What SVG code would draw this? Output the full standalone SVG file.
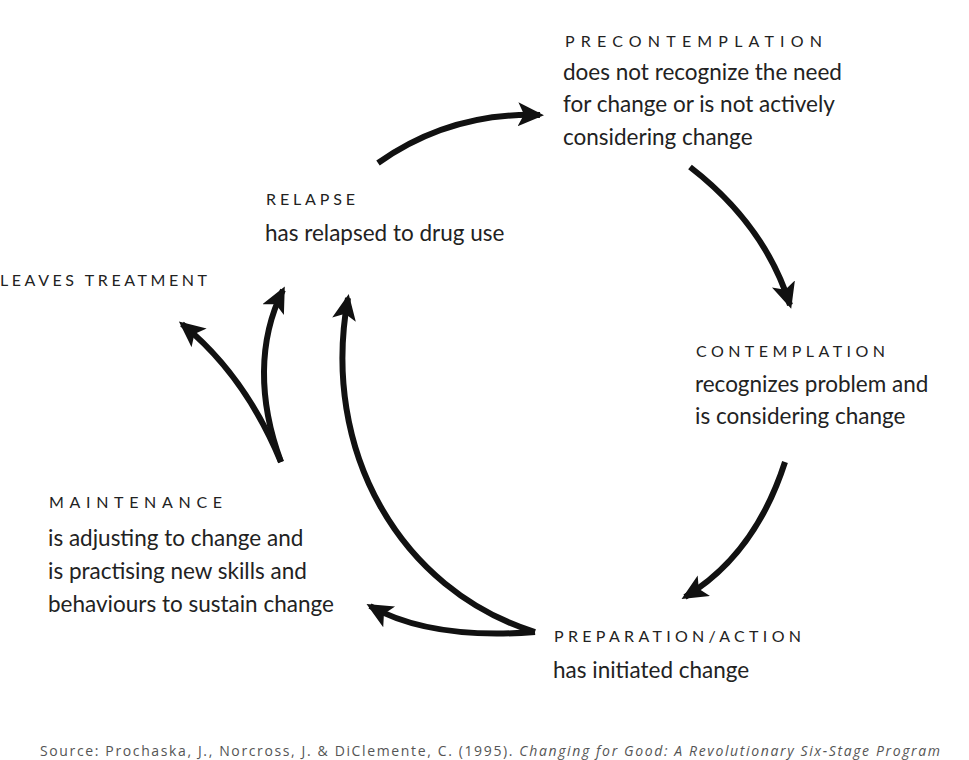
<svg xmlns="http://www.w3.org/2000/svg" width="969" height="760" viewBox="0 0 969 760">
<style>
.t{font-family:Lato,"Open Sans",sans-serif;font-size:16px;letter-spacing:3px;fill:#222}
.b{font-family:Lato,"Open Sans",sans-serif;font-size:22.5px;fill:#222}
.s{font-family:"Open Sans",sans-serif;font-size:14px;fill:#555}
.a{fill:none;stroke:#111;stroke-width:6;stroke-linecap:butt;marker-end:url(#h)}
</style>
<defs>
<marker id="h" markerUnits="userSpaceOnUse" markerWidth="30" markerHeight="30" refX="22" refY="12" orient="auto">
<path d="M0,0 L26,12 L0,24 L6,12 Z" fill="#111"/>
</marker>
</defs>
<rect width="969" height="760" fill="#fff"/>
<g id="connectors">
<path class="a" d="M378,163 Q450,112 540,115"/>
<path class="a" d="M690,167 Q765,225 790,305"/>
<path class="a" d="M785,462 Q755,555 685,597"/>
<path class="a" d="M535,632 Q430,640 370,606"/>
<path class="a" d="M535,632 C400,590 320,450 348,298"/>
<path class="a" d="M281,462 C258,400 258,340 283,290"/>
<path class="a" d="M281,462 Q245,375 182,324"/>
</g>
<g id="precontemplation">
<text class="t" x="565" y="47" textLength="260">PRECONTEMPLATION</text>
<text class="b" x="563" y="80">does not recognize the need</text>
<text class="b" x="563" y="112">for change or is not actively</text>
<text class="b" x="563" y="145">considering change</text>
</g>
<g id="contemplation">
<text class="t" x="696" y="357" textLength="192">CONTEMPLATION</text>
<text class="b" x="695" y="392">recognizes problem and</text>
<text class="b" x="695" y="424">is considering change</text>
</g>
<g id="preparation">
<text class="t" x="554" y="642" textLength="250">PREPARATION/ACTION</text>
<text class="b" x="553" y="678">has initiated change</text>
</g>
<g id="maintenance">
<text class="t" x="49" y="508" textLength="176">MAINTENANCE</text>
<text class="b" x="48" y="546">is adjusting to change and</text>
<text class="b" x="48" y="579">is practising new skills and</text>
<text class="b" x="48" y="612">behaviours to sustain change</text>
</g>
<g id="relapse">
<text class="t" x="266" y="205" textLength="92">RELAPSE</text>
<text class="b" x="265" y="241">has relapsed to drug use</text>
</g>
<g id="leaves">
<text class="t" x="0" y="286" textLength="210">LEAVES TREATMENT</text>
</g>
<text class="s" x="40" y="756" textLength="900">Source: Prochaska, J., Norcross, J. &amp; DiClemente, C. (1995). <tspan font-style="italic">Changing for Good: A Revolutionary Six-Stage Program</tspan></text>
</svg>
